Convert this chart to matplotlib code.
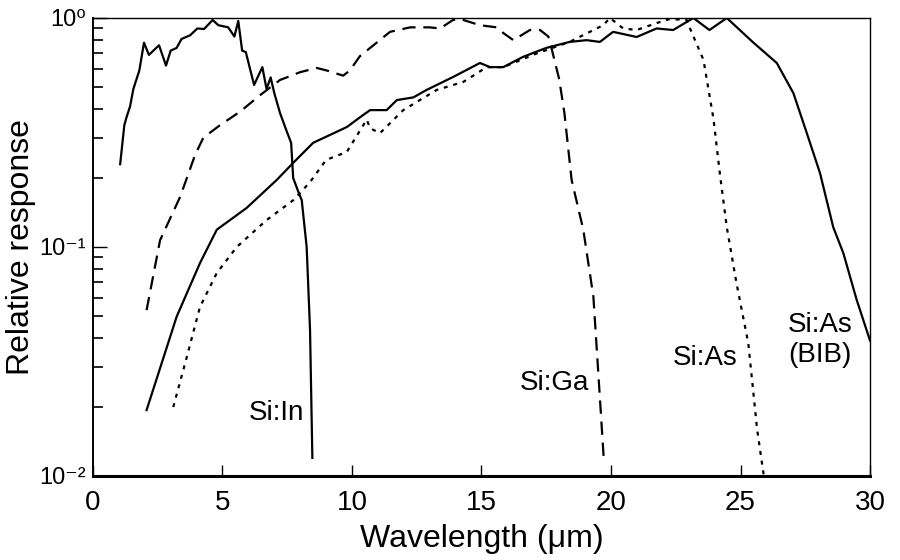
import matplotlib.pyplot as plt
from matplotlib.ticker import FixedLocator, LogLocator, NullFormatter

# spectral response curves (wavelength in um)
si_in_x = [1.05, 1.21, 1.3, 1.43, 1.56, 1.79, 1.97, 2.16, 2.55, 2.82, 3.0, 3.23,
           3.42, 3.75, 4.03, 4.29, 4.62, 4.84, 5.22, 5.46, 5.61, 5.76, 5.9, 6.22,
           6.54, 6.7, 6.86, 7.0, 7.22, 7.48, 7.65, 7.73, 7.93, 8.06, 8.25, 8.38, 8.47]
si_in_y = [0.23, 0.34, 0.37, 0.41, 0.49, 0.59, 0.78, 0.69, 0.76, 0.62, 0.72, 0.74,
           0.81, 0.84, 0.90, 0.895, 0.98, 0.93, 0.91, 0.83, 0.97, 0.72, 0.71, 0.51,
           0.61, 0.49, 0.55, 0.47, 0.385, 0.32, 0.285, 0.20, 0.174, 0.16, 0.10, 0.0435, 0.012]

si_ga_x = [2.07, 2.59, 3.36, 3.94, 4.26, 4.9, 5.68, 6.45, 7.22, 8.0, 8.64, 9.02, 9.66,
           9.92, 10.3, 10.7, 11.47, 12.24, 13.0, 13.4, 13.9, 14.17, 14.94, 15.59, 15.84,
           16.23, 16.87, 17.26, 17.58, 17.7, 18.0, 18.2, 18.48, 18.93, 19.32, 19.57, 19.73]
si_ga_y = [0.053, 0.107, 0.165, 0.252, 0.30, 0.34, 0.39, 0.46, 0.536, 0.58, 0.605, 0.59,
           0.56, 0.59, 0.68, 0.74, 0.87, 0.91, 0.91, 0.90, 0.98, 0.99, 0.93, 0.91, 0.86,
           0.80, 0.886, 0.886, 0.83, 0.74, 0.54, 0.385, 0.196, 0.119, 0.0606, 0.022, 0.0114]

si_as_x = [3.1, 3.62, 4.13, 4.78, 5.55, 6.7, 7.73, 8.38, 9.0, 9.8, 10.57, 10.7, 11.08,
           11.98, 13.27, 14.3, 15.2, 15.84, 17.13, 18.4, 19.7, 19.96, 20.47, 20.99, 21.76,
           22.27, 22.92, 23.05, 23.57, 23.96, 24.2, 24.47, 24.85, 25.3, 25.64, 25.9]
si_as_y = [0.02, 0.033, 0.0547, 0.077, 0.1, 0.131, 0.16, 0.192, 0.24, 0.26, 0.36, 0.33,
           0.314, 0.396, 0.485, 0.526, 0.61, 0.61, 0.70, 0.786, 0.93, 1.0, 0.90, 0.886,
           0.95, 0.99, 0.98, 0.90, 0.656, 0.36, 0.21, 0.122, 0.069, 0.038, 0.016, 0.0100]

bib_x = [2.07, 3.23, 4.13, 4.78, 5.93, 7.09, 7.73, 8.5, 9.8, 10.43, 10.7, 11.08, 11.34,
         11.73, 12.37, 12.88, 13.91, 14.94, 15.33, 15.84, 16.6, 17.5, 18.4, 19.06, 19.57,
         20.08, 20.99, 21.76, 22.4, 23.18, 23.8, 24.47, 25.5, 26.4, 27.04, 27.56, 28.07,
         28.58, 28.97, 29.48, 30.0]
bib_y = [0.0194, 0.0496, 0.085, 0.119, 0.148, 0.196, 0.233, 0.285, 0.334, 0.377, 0.396,
         0.396, 0.396, 0.438, 0.45, 0.485, 0.553, 0.636, 0.61, 0.61, 0.676, 0.74, 0.786,
         0.80, 0.786, 0.87, 0.826, 0.90, 0.886, 1.0, 0.886, 1.0, 0.78, 0.636, 0.47, 0.314,
         0.21, 0.122, 0.094, 0.059, 0.039]

x_ticks = [0, 5, 10, 15, 20, 25, 30]
y_ticks = [0.01, 0.1, 1]
y_tick_labels = ['10\u207b\u00b2', '10\u207b\u00b9', '10\u2070']

plt.rcParams['font.family'] = ['Liberation Sans', 'DejaVu Sans']

fig = plt.figure(figsize=(9, 5.6), dpi=100)
ax = fig.add_axes([0.1033, 0.15, 0.8634, 0.8179])

lw = 1.6
ax.plot(si_in_x, si_in_y, color='black', lw=lw)
ax.plot(si_ga_x, si_ga_y, color='black', lw=lw, linestyle=(0, (6, 3.5)))
ax.plot(si_as_x, si_as_y, color='black', lw=lw, linestyle=(0, (1.8, 2.6)))
ax.plot(bib_x, bib_y, color='black', lw=lw)

ax.set_yscale('log')
ax.set_xlim(0, 30)
ax.set_ylim(0.01, 1)

# labels next to each curve
lab = dict(fontsize=20, ha='center', va='baseline')
ax.text(7.1, 0.0176, 'Si:In', **lab)
ax.text(17.8, 0.0238, 'Si:Ga', **lab)
ax.text(23.63, 0.0305, 'Si:As', **lab)
ax.text(28.07, 0.0425, 'Si:As', **lab)
ax.text(28.07, 0.0315, '(BIB)', **lab)

ax.set_xticks(x_ticks)
ax.set_xticklabels([str(t) for t in x_ticks], fontsize=20)
ax.yaxis.set_major_locator(FixedLocator(y_ticks))
ax.set_yticklabels(y_tick_labels, fontsize=17)
ax.yaxis.set_minor_locator(LogLocator(base=10, subs=range(2, 10)))
ax.yaxis.set_minor_formatter(NullFormatter())

ax.tick_params(axis='x', direction='in', length=8, width=1, pad=10)
ax.tick_params(axis='y', which='major', direction='in', length=10, width=1, pad=5)
ax.tick_params(axis='y', which='minor', direction='in', length=7, width=1.2)

ax.spines['bottom'].set_linewidth(2.2)
ax.spines['left'].set_linewidth(1.4)
ax.spines['top'].set_linewidth(1)
ax.spines['right'].set_linewidth(1)

ax.set_xlabel('Wavelength (\u03bcm)', fontsize=23)
ax.xaxis.set_label_coords(0.5, -0.105)
ax.set_ylabel('Relative response', fontsize=23)
ax.yaxis.set_label_coords(-0.073, 0.5)

plt.savefig('out.png', dpi=100)
